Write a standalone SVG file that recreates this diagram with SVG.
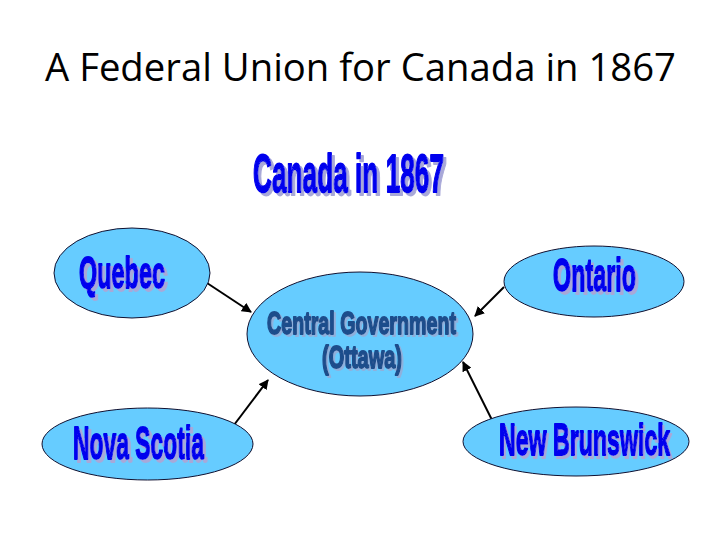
<svg xmlns="http://www.w3.org/2000/svg" width="720" height="540" viewBox="0 0 720 540">
<defs>
<style>
.title{font-family:"Open Sans","Noto Sans",sans-serif;font-size:38px;fill:#000}
.bd{font-family:"Liberation Sans Narrow","Liberation Sans",sans-serif;font-weight:bold;stroke-width:1.8;stroke-linejoin:round}
.blue{fill:#0000ee;stroke:#0000ee;filter:url(#shb)}
.navy{fill:#1f4e8c;stroke:#1f4e8c;filter:url(#shn)}
.ell{fill:#66ccff;stroke:#101030;stroke-width:1}
.conn{stroke:#000;stroke-width:2;fill:none}
</style>
<filter id="shb" x="-20%" y="-30%" width="140%" height="170%">
<feOffset in="SourceAlpha" dx="3" dy="3" result="o"/>
<feFlood flood-color="#a8a8d8"/>
<feComposite in2="o" operator="in"/>
<feMerge><feMergeNode/><feMergeNode in="SourceGraphic"/></feMerge>
</filter>
<filter id="shn" x="-20%" y="-30%" width="140%" height="170%">
<feOffset in="SourceAlpha" dx="2" dy="2" result="o"/>
<feFlood flood-color="#8fb0dc"/>
<feComposite in2="o" operator="in"/>
<feMerge><feMergeNode/><feMergeNode in="SourceGraphic"/></feMerge>
</filter>
<marker id="ah" viewBox="0 0 10 10" refX="9" refY="5" markerWidth="5" markerHeight="5" orient="auto" markerUnits="strokeWidth">
<path d="M0,0 L10,5 L0,10 z" fill="#000"/>
</marker>
</defs>
<rect width="720" height="540" fill="#fff"/>
<text class="title" x="45" y="81" textLength="631" lengthAdjust="spacingAndGlyphs">A Federal Union for Canada in 1867</text>
<g id="heading">
<text class="bd blue" x="253" y="192" font-size="54" textLength="191" lengthAdjust="spacingAndGlyphs">Canada in 1867</text>
</g>
<g id="connectors">
<line class="conn" x1="207" y1="283" x2="251" y2="312" marker-end="url(#ah)"/>
<line class="conn" x1="504" y1="287" x2="475" y2="316" marker-end="url(#ah)"/>
<line class="conn" x1="234" y1="425" x2="268" y2="380" marker-end="url(#ah)"/>
<line class="conn" x1="493" y1="422" x2="463" y2="362" marker-end="url(#ah)"/>
</g>
<g id="quebec">
<ellipse class="ell" cx="132" cy="273" rx="78" ry="45"/>
<text class="bd blue" x="79" y="288" font-size="44" textLength="86" lengthAdjust="spacingAndGlyphs">Quebec</text>
</g>
<g id="ontario">
<ellipse class="ell" cx="594" cy="281.5" rx="90" ry="35.5"/>
<text class="bd blue" x="553" y="291" font-size="46" textLength="83" lengthAdjust="spacingAndGlyphs">Ontario</text>
</g>
<g id="central">
<ellipse class="ell" cx="360" cy="334" rx="113" ry="62"/>
<text class="bd navy" x="267" y="334" font-size="31" textLength="189" lengthAdjust="spacingAndGlyphs">Central Government</text>
<text class="bd navy" x="322" y="368" font-size="31" textLength="80" lengthAdjust="spacingAndGlyphs">(Ottawa)</text>
</g>
<g id="novascotia">
<ellipse class="ell" cx="147.5" cy="444" rx="105.5" ry="36"/>
<text class="bd blue" x="73" y="459" font-size="46" textLength="131" lengthAdjust="spacingAndGlyphs">Nova Scotia</text>
</g>
<g id="newbrunswick">
<ellipse class="ell" cx="576" cy="441.5" rx="113" ry="34.5"/>
<text class="bd blue" transform="translate(499 455) scale(0.53 1)" x="0" y="0" font-size="44" textLength="323" lengthAdjust="spacingAndGlyphs">New Brunswick</text>
</g>
</svg>
